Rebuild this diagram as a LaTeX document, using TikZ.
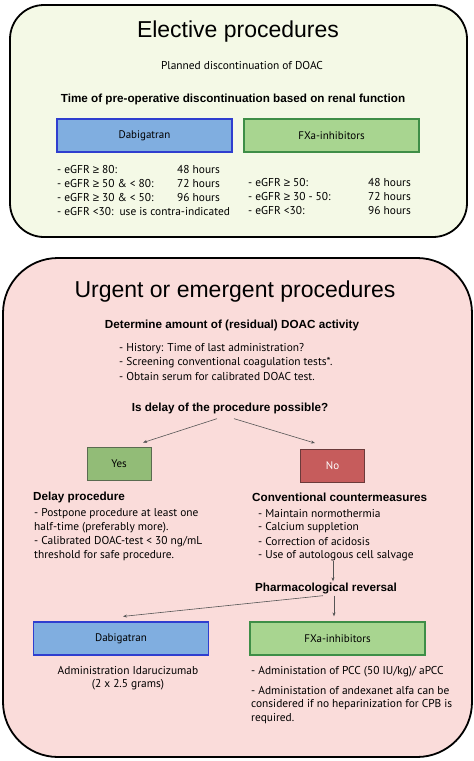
\documentclass[tikz,border=0pt]{standalone}
\usepackage{fontspec}
\setmainfont{PT Sans}
\newfontfamily\headf{Liberation Sans}
\usetikzlibrary{arrows.meta}
\definecolor{elecbg}{HTML}{F4F9E6}
\definecolor{urgbg}{HTML}{FADCDA}
\definecolor{blueF}{HTML}{80AEE0}
\definecolor{blueD}{HTML}{2F3ECF}
\definecolor{greenF}{HTML}{A8D590}
\definecolor{greenD}{HTML}{3E8E47}
\definecolor{yesF}{HTML}{92BC77}
\definecolor{yesD}{HTML}{5A6B50}
\definecolor{noF}{HTML}{C65C5C}
\definecolor{noD}{HTML}{6B3A3A}
\definecolor{arrc}{HTML}{555555}
\newcommand\gesym{{\headf ≥}}
\begin{document}
\begin{tikzpicture}[x=1pt,y=-1pt,
  outerbox/.style={draw=black,line width=1.8pt,inner sep=0pt},
  titletxt/.style={font=\headf\fontsize{23}{27}\selectfont,inner sep=0pt},
  boldhdr/.style={font=\headf\bfseries\fontsize{11.7}{14}\selectfont,inner sep=0pt},
  plain/.style={font=\fontsize{11.4}{13}\selectfont,inner sep=0pt,anchor=west},
  plainc/.style={font=\fontsize{11.4}{13}\selectfont,inner sep=0pt},
  drugbox/.style={line width=1.2pt,minimum width=175pt,minimum height=33pt,inner sep=0pt,font=\fontsize{11}{13}\selectfont},
  ynbox/.style={line width=0.8pt,minimum width=64pt,minimum height=33pt,inner sep=0pt,font=\fontsize{11}{13}\selectfont},
  arr/.style={draw=arrc,line width=0.6pt,-{Stealth[length=4pt,width=3pt]}}]
\useasboundingbox (0,0) rectangle (474,761);
\fill[white] (0,0) rectangle (474,761);
% outer boxes
\node[outerbox,fill=elecbg,rounded corners=34pt,minimum width=457pt,minimum height=232pt] (elective) at (238.5,121) {};
\node[outerbox,fill=urgbg,rounded corners=55pt,minimum width=469pt,minimum height=499pt] (urgent) at (237.5,507.5) {};
% elective section
\node[titletxt] (t1) at (238,32) {Elective procedures};
\node[plainc] (planned) at (242,66) {Planned discontinuation of DOAC};
\node[boldhdr] (timehdr) at (233,99) {Time of pre-operative discontinuation based on renal function};
\node[drugbox,draw=blueD,fill=blueF] (dab1) at (144.5,135.5) {Dabigatran};
\node[drugbox,draw=greenD,fill=greenF] (fxa1) at (331.5,135.5) {FXa-inhibitors};
\node[plain] (d1) at (57,170) {- eGFR \gesym{} 80:};
\node[plain] (d2) at (57,184) {- eGFR \gesym{} 50 \& < 80:};
\node[plain] (d3) at (57,198) {- eGFR \gesym{} 30 \& < 50:};
\node[plain] (d4) at (57,212) {- eGFR <30:\ \ use is contra-indicated};
\node[plain] (h1) at (177,170) {48 hours};
\node[plain] (h2) at (177,184) {72 hours};
\node[plain] (h3) at (177,198) {96 hours};
\node[plain] (f1) at (248,183) {- eGFR \gesym{} 50:};
\node[plain] (f2) at (248,197) {- eGFR \gesym{} 30 - 50:};
\node[plain] (f3) at (248,211) {- eGFR <30:};
\node[plain] (g1) at (368,183) {48 hours};
\node[plain] (g2) at (368,197) {72 hours};
\node[plain] (g3) at (368,211) {96 hours};
% urgent section
\node[titletxt] (t2) at (235,292) {Urgent or emergent procedures};
\node[boldhdr] (dethdr) at (232,325) {Determine amount of (residual) DOAC activity};
\node[plain] (s1) at (119,349) {- History: Time of last administration?};
\node[plain] (s2) at (119,363) {- Screening conventional coagulation tests*.};
\node[plain] (s3) at (119,377) {- Obtain serum for calibrated DOAC test.};
\node[boldhdr] (delayq) at (230,408) {Is delay of the procedure possible?};
\node[ynbox,draw=yesD,fill=yesF] (yes) at (119,463.5) {Yes};
\node[ynbox,draw=noD,fill=noF,text=white] (no) at (332.5,466) {No};
\draw[arr] ([xshift=-13pt,yshift=-5pt]delayq.south) -- ([xshift=24pt,yshift=4pt]yes.north);
\draw[arr] ([xshift=4pt,yshift=-5pt]delayq.south) -- ([xshift=-17.5pt,yshift=6pt]no.north);
\node[boldhdr,anchor=west] (delayhdr) at (33,497) {Delay procedure};
\node[plain] (p1) at (34,514) {- Postpone procedure at least one};
\node[plain] (p2) at (34,528) {half-time (preferably more).};
\node[plain] (p3) at (34,542) {- Calibrated DOAC-test < 30 ng/mL};
\node[plain] (p4) at (34,556) {threshold for safe procedure.};
\node[boldhdr,anchor=west] (convhdr) at (252,497) {Conventional countermeasures};
\node[plain] (c1) at (258,514) {- Maintain normothermia};
\node[plain] (c2) at (258,528) {- Calcium suppletion};
\node[plain] (c3) at (258,542) {- Correction of acidosis};
\node[plain] (c4) at (258,556) {- Use of autologous cell salvage};
\node[boldhdr] (pharm) at (326,588) {Pharmacological reversal};
\draw[arr] ([xshift=7pt]pharm.north |- c4.south) -- ([xshift=7pt,yshift=1pt]pharm.north);
\node[drugbox,draw=blueD,fill=blueF] (dab2) at (121,638.5) {Dabigatran};
\node[drugbox,draw=greenD,fill=greenF] (fxa2) at (337.5,638.5) {FXa-inhibitors};
\draw[arr] ([xshift=-3pt,yshift=-2pt]pharm.south) -- ([xshift=2pt,yshift=5pt]dab2.north);
\draw[arr] ([xshift=8pt,yshift=-2pt]pharm.south) -- ([xshift=-3.5pt,yshift=5pt]fxa2.north);
\node[plainc] (a1) at (128,671) {Administration Idarucizumab};
\node[plainc] (a2) at (128,685) {(2 x 2.5 grams)};
\node[plain] (x1) at (251,672) {- Administation of PCC (50 IU/kg)/ aPCC};
\node[plain] (x2) at (251,691) {- Administation of andexanet alfa can be};
\node[plain] (x3) at (251,705) {considered if no heparinization for CPB is};
\node[plain] (x4) at (251,719) {required.};
\end{tikzpicture}
\end{document}
